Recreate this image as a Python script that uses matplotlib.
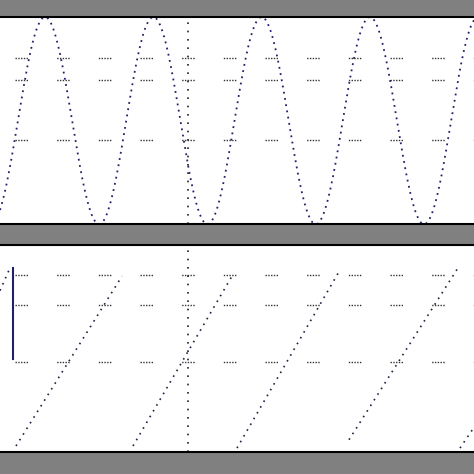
import numpy as np
import matplotlib
matplotlib.use("Agg")
import matplotlib.pyplot as plt

# horizontal coordinate in panel units (0..474)
sine_peaks = [45, 155, 265, 370]
sine_period = 108.3
top_grid = [0.60, 0.39, -0.19]

# sawtooth ramp segments: (x_start, y_start, x_end, y_end), y in 0..1
ramps = [(0, 0.78, 10, 0.89),
         (16, 0.03, 122, 0.85),
         (133, 0.03, 232, 0.85),
         (237, 0.02, 340, 0.88),
         (349, 0.06, 458, 0.89),
         (460, 0.02, 474, 0.12)]
vert_seg = (13, 0.45, 0.89)
bot_grid = [0.855, 0.71, 0.435]
center_x = 188

grid_ls = (0, (1, 1, 1, 1, 1, 1, 1, 1, 1, 21))

fig = plt.figure(figsize=(4.74, 4.74), dpi=100, facecolor="#808080")
ax1 = fig.add_axes([0, 0.527, 1, 0.437])
ax2 = fig.add_axes([0, 0.046, 1, 0.437])
blue = "#20206a"
for ax in (ax1, ax2):
    ax.set_xlim(0, 474)
    ax.set_xticks([]); ax.set_yticks([])
    for s in ("left", "right"):
        ax.spines[s].set_visible(False)
    for s in ("top", "bottom"):
        ax.spines[s].set_linewidth(1.5)
    ax.axvline(center_x, color="#222222", lw=1.2, ls=(0, (1, 4)))

ax1.set_ylim(-1, 1)
x = np.linspace(0, 474, 600)
y = np.cos(2 * np.pi * (x - sine_peaks[0]) / sine_period)
ax1.plot(x, y, color=blue, lw=1.3, ls=(0, (1, 2.5)))
for g in top_grid:
    ax1.hlines(g, 15, 474, color="#333333", lw=1.0, ls=grid_ls)

ax2.set_ylim(0, 1)
for g in bot_grid:
    ax2.hlines(g, 15, 474, color="#333333", lw=1.0, ls=grid_ls)
for x0, y0, x1, y1 in ramps:
    ax2.plot([x0, x1], [y0, y1], color="#222244", lw=1.2, ls=(0, (1, 3)))
ax2.plot([vert_seg[0]] * 2, vert_seg[1:], color=blue, lw=1.5)

fig.savefig("out.png", dpi=100, facecolor=fig.get_facecolor())
